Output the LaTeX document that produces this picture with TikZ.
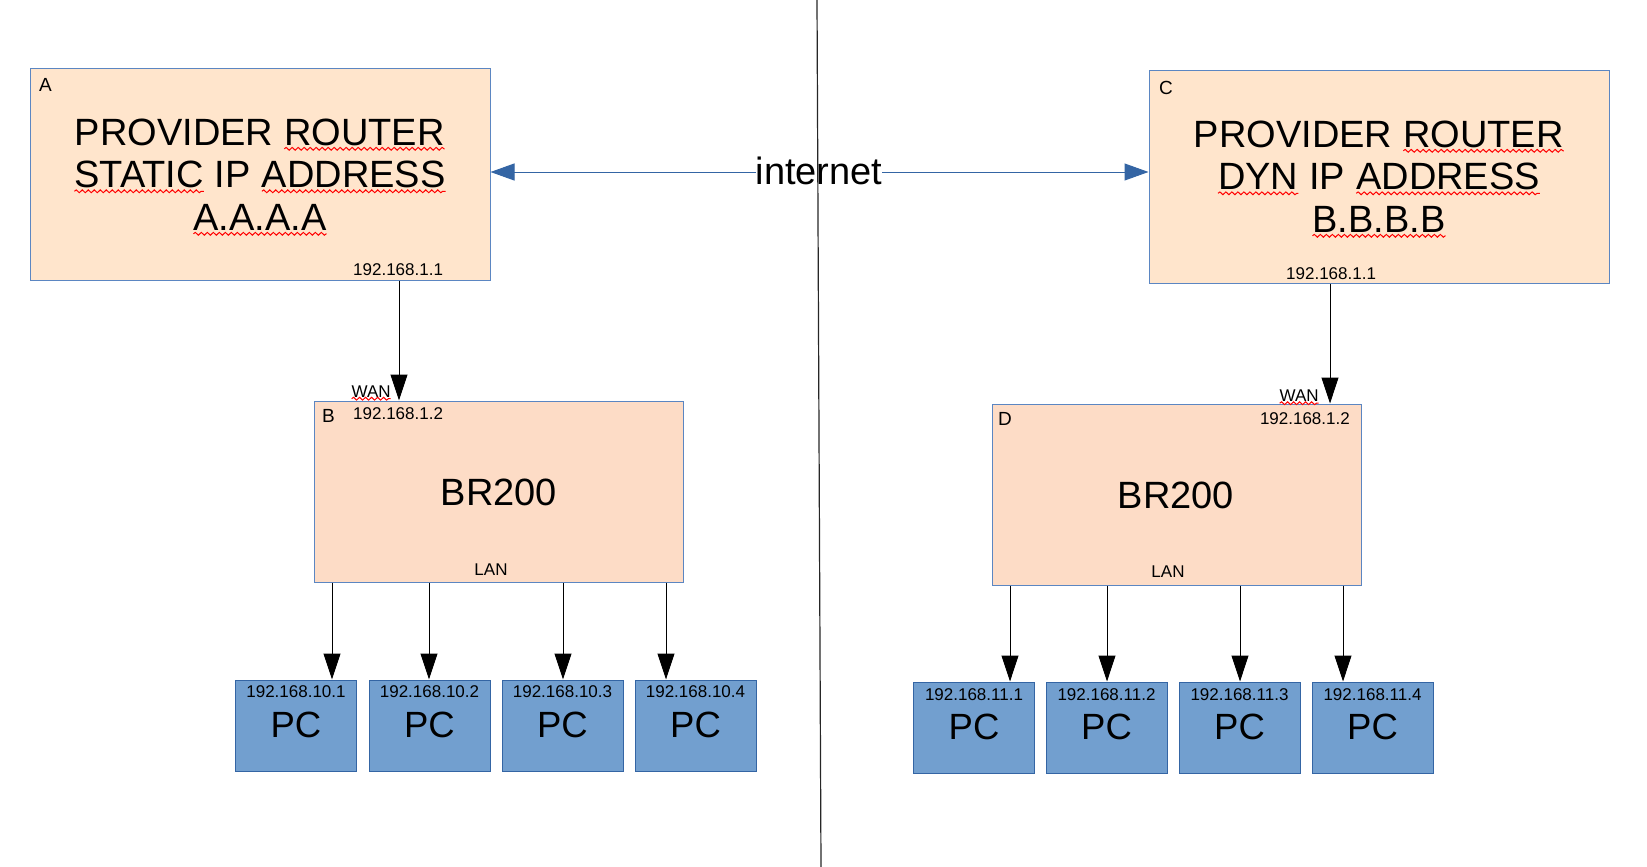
\documentclass[tikz,border=0pt]{standalone}
\usepackage{fontspec}
\setmainfont{Liberation Sans}
\usetikzlibrary{arrows.meta,calc,decorations.pathmorphing}
\definecolor{provfill}{HTML}{FFE5CC}
\definecolor{brfill}{HTML}{FDDCC6}
\definecolor{pcfill}{HTML}{729FCF}
\definecolor{pcline}{HTML}{3465A4}
\definecolor{boxline}{HTML}{5B86C2}
\definecolor{netline}{HTML}{3465A4}
\newcommand\sq[1]{\tikz[baseline=(w.base),x=1pt,y=1pt]{\node[inner sep=0pt,outer sep=0pt,draw=none,fill=none,anchor=base] (w) at (0,0) {#1};\draw[red,line width=1pt,solid,decorate,decoration={snake,amplitude=1.4pt,segment length=6pt}] ([yshift=-0.1em]w.base west) -- ([yshift=-0.1em]w.base east);}}
\tikzset{
 prov/.style={draw=boxline,fill=provfill,line width=1pt,inner sep=0pt,minimum width=460pt,minimum height=211pt},
 br/.style={draw=boxline,fill=brfill,line width=1pt,inner sep=0pt,minimum width=369pt,minimum height=181pt},
 pc/.style={draw=pcline,fill=pcfill,line width=1pt,inner sep=0pt,minimum width=121pt,minimum height=91pt},
 big/.style={font=\fontsize{38}{44}\selectfont,inner sep=0pt},
 pctxt/.style={font=\fontsize{36.5}{40}\selectfont,inner sep=0pt},
 small/.style={font=\fontsize{17}{20}\selectfont,inner sep=0pt},
 lab/.style={font=\fontsize{19}{22}\selectfont,inner sep=0pt},
 arr/.style={draw=black,line width=1pt,-{Triangle[length=26pt,width=17pt]}},
 netarr/.style={draw=netline,color=netline,line width=1pt,{Triangle[length=24pt,width=17pt]}-{Triangle[length=24pt,width=17pt]}},
}
\begin{document}
\begin{tikzpicture}[x=1pt,y=-1pt]
\useasboundingbox (0,0) rectangle (1647,867);
% provider routers
\node[prov] (A) at (260,174.5) {};
\node[lab,anchor=base west] (Alab) at (39,92) {A};
\node[big,anchor=base] (A1) at (260,145) {PROVIDER \sq{ROUTER}};
\node[big,anchor=base] (A2) at (260,187.5) {\sq{STATIC} IP \sq{ADDRESS}};
\node[big,anchor=base] (A3) at (260,230) {\sq{A.A.A.A}};
\node[small,anchor=base west] (Aip) at (353,275) {192.168.1.1};

\node[prov,minimum height=212pt] (C) at (1379,177) {};
\node[lab,anchor=base west] (Clab) at (1159,94) {C};
\node[big,anchor=base] (C1) at (1379,147) {PROVIDER \sq{ROUTER}};
\node[big,anchor=base] (C2) at (1379,189.5) {\sq{DYN} IP \sq{ADDRESS}};
\node[big,anchor=base] (C3) at (1379,232) {\sq{B.B.B.B}};
\node[small,anchor=base west] (Cip) at (1286,279) {192.168.1.1};

% BR200 routers
\node[br] (B) at (498.5,491.5) {};
\node[lab,anchor=base west] (Blab) at (322,422) {B};
\node[small,anchor=base west] (Bip) at (353,419) {192.168.1.2};
\node[small,anchor=base west] (Bwan) at (351,397) {\sq{WAN}};
\node[big,anchor=base] (Bname) at (499,505) {BR200};
\node[small,anchor=base] (Blan) at (491,575) {LAN};

\node[br] (D) at (1176.5,494.5) {};
\node[lab,anchor=base west] (Dlab) at (998,425) {D};
\node[small,anchor=base east] (Dip) at (1350,424) {192.168.1.2};
\node[small,anchor=base west] (Dwan) at (1279,401.5) {\sq{WAN}};
\node[big,anchor=base] (Dname) at (1176,508) {BR200};
\node[small,anchor=base] (Dlan) at (1168,577) {LAN};

% PCs
\foreach \i/\x/\ip in {1/296/10.1,2/429.5/10.2,3/562.5/10.3,4/695.5/10.4}{
  \node[pc] (P\i) at (\x,725.5) {};
  \node[small,anchor=base] (P\i ip) at (\x,697) {192.168.\ip};
  \node[pctxt,anchor=base] (P\i t) at (\x,737) {PC};
}
\foreach \i/\x/\ip in {1/974/11.1,2/1106.5/11.2,3/1239.5/11.3,4/1372.5/11.4}{
  \node[pc] (Q\i) at (\x,727.5) {};
  \node[small,anchor=base] (Q\i ip) at (\x,700) {192.168.\ip};
  \node[pctxt,anchor=base] (Q\i t) at (\x,739.5) {PC};
}

% WAN links
\coordinate (wl) at (399,0);
\coordinate (wr) at (1330,0);
\draw[arr] (A.south -| wl) -- (B.north -| wl);
\draw[arr] (C.south -| wr) -- (D.north -| wr);

% LAN links
\foreach \i/\x in {1/332,2/429,3/563,4/666}{
  \coordinate (bl\i) at (\x,0);
  \draw[arr] (B.south -| bl\i) -- (P\i.north -| bl\i);
}
\foreach \i/\x in {1/1010,2/1107,3/1240,4/1343}{
  \coordinate (dl\i) at (\x,0);
  \draw[arr] (D.south -| dl\i) -- (Q\i.north -| dl\i);
}

% internet
\coordinate (net) at (0,172);
\draw[netarr] (A.east |- net) -- (C.west |- net);
\node[big,fill=white,anchor=base] (inet) at (819,184) {internet};

% divider
\coordinate (vt) at (817,0);
\coordinate (vb) at (821,867);
\draw[line width=1.2pt,black!85] (vt) -- (vb);
\end{tikzpicture}
\end{document}
